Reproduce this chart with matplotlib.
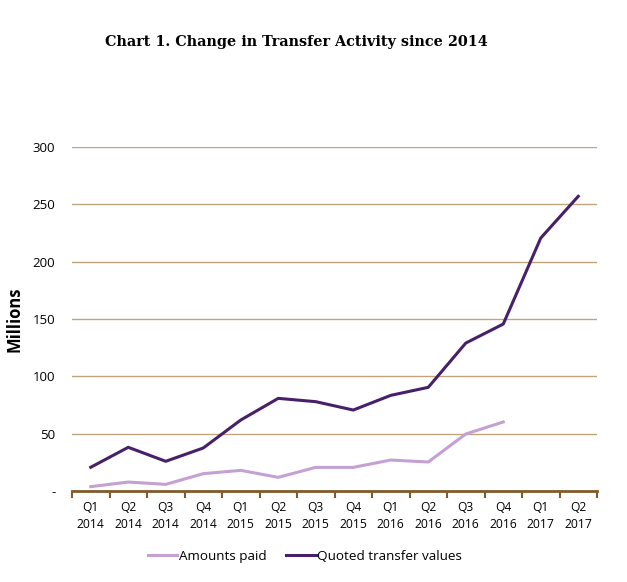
import matplotlib
matplotlib.use("Agg")
import matplotlib.pyplot as plt
import numpy as np

quarters = ["Q1\n2014", "Q2\n2014", "Q3\n2014", "Q4\n2014", "Q1\n2015", "Q2\n2015", "Q3\n2015",
            "Q4\n2015", "Q1\n2016", "Q2\n2016", "Q3\n2016", "Q4\n2016", "Q1\n2017", "Q2\n2017"]
amounts_paid = [3.8, 7.8, 5.8, 15.1, 18.0, 11.9, 20.6, 20.6, 27.0, 25.3, 49.7, 60.2]
quoted_values = [20.7, 38.1, 25.9, 37.5, 61.9, 80.8, 77.9, 70.6, 83.4, 90.4, 129.0, 145.6, 220.6, 257.0]
y_ticks = [0, 50, 100, 150, 200, 250, 300]
y_labels = ["-", "50", "100", "150", "200", "250", "300"]

plt.rcParams['font.family'] = ['Open Sans', 'DejaVu Sans']

fig = plt.figure(figsize=(6.27, 5.82), dpi=100)
ax = fig.add_axes([72/627, 1-491/582, (597-72)/627, (491-147)/582])

x_all = np.arange(len(quarters))
ax.plot(x_all[:len(amounts_paid)], amounts_paid, color="#C5A0D2", lw=2.2, label="Amounts paid",
        solid_joinstyle="round")
ax.plot(x_all, quoted_values, color="#47206A", lw=2.2, label="Quoted transfer values",
        solid_joinstyle="round")

ax.set_xlim(-0.5, len(quarters) - 0.5)
ax.set_ylim(0, 300)
ax.set_yticks(y_ticks)
ax.set_yticklabels(y_labels, fontsize=9.5)
ax.set_xticks(x_all)
ax.set_xticklabels(quarters, fontsize=8.7, linespacing=1.4)
ax.set_xticks(np.arange(-0.5, len(quarters)), minor=True)
ax.tick_params(axis='x', which='major', length=0, pad=7)
ax.tick_params(axis='x', which='minor', length=5, width=1.5, color="#7F5A2A", direction='out')
ax.tick_params(axis='y', length=0, pad=12)

for v in y_ticks[1:]:
    ax.axhline(v, color="#BFA47C", lw=1.0, zorder=0)

for s in ["top", "right", "left"]:
    ax.spines[s].set_visible(False)
ax.spines["bottom"].set_color("#7F5A2A")
ax.spines["bottom"].set_linewidth(2.0)

ax.set_ylabel("Millions", fontsize=12, fontweight="bold")
ax.yaxis.set_label_coords(-0.093, 0.5)

fig.text(0.473, 1-42/582, "Chart 1. Change in Transfer Activity since 2014", ha="center", va="center",
         fontsize=10.4, fontweight="bold", family=["DejaVu Serif"])

leg = ax.legend(loc="upper center", ncol=2, frameon=False, fontsize=9.7, handlelength=2.2,
                handletextpad=0.1, columnspacing=1.5)
leg.set_bbox_to_anchor((305/627, 1-538/582), transform=fig.transFigure)

fig.savefig("out.png", dpi=100)
